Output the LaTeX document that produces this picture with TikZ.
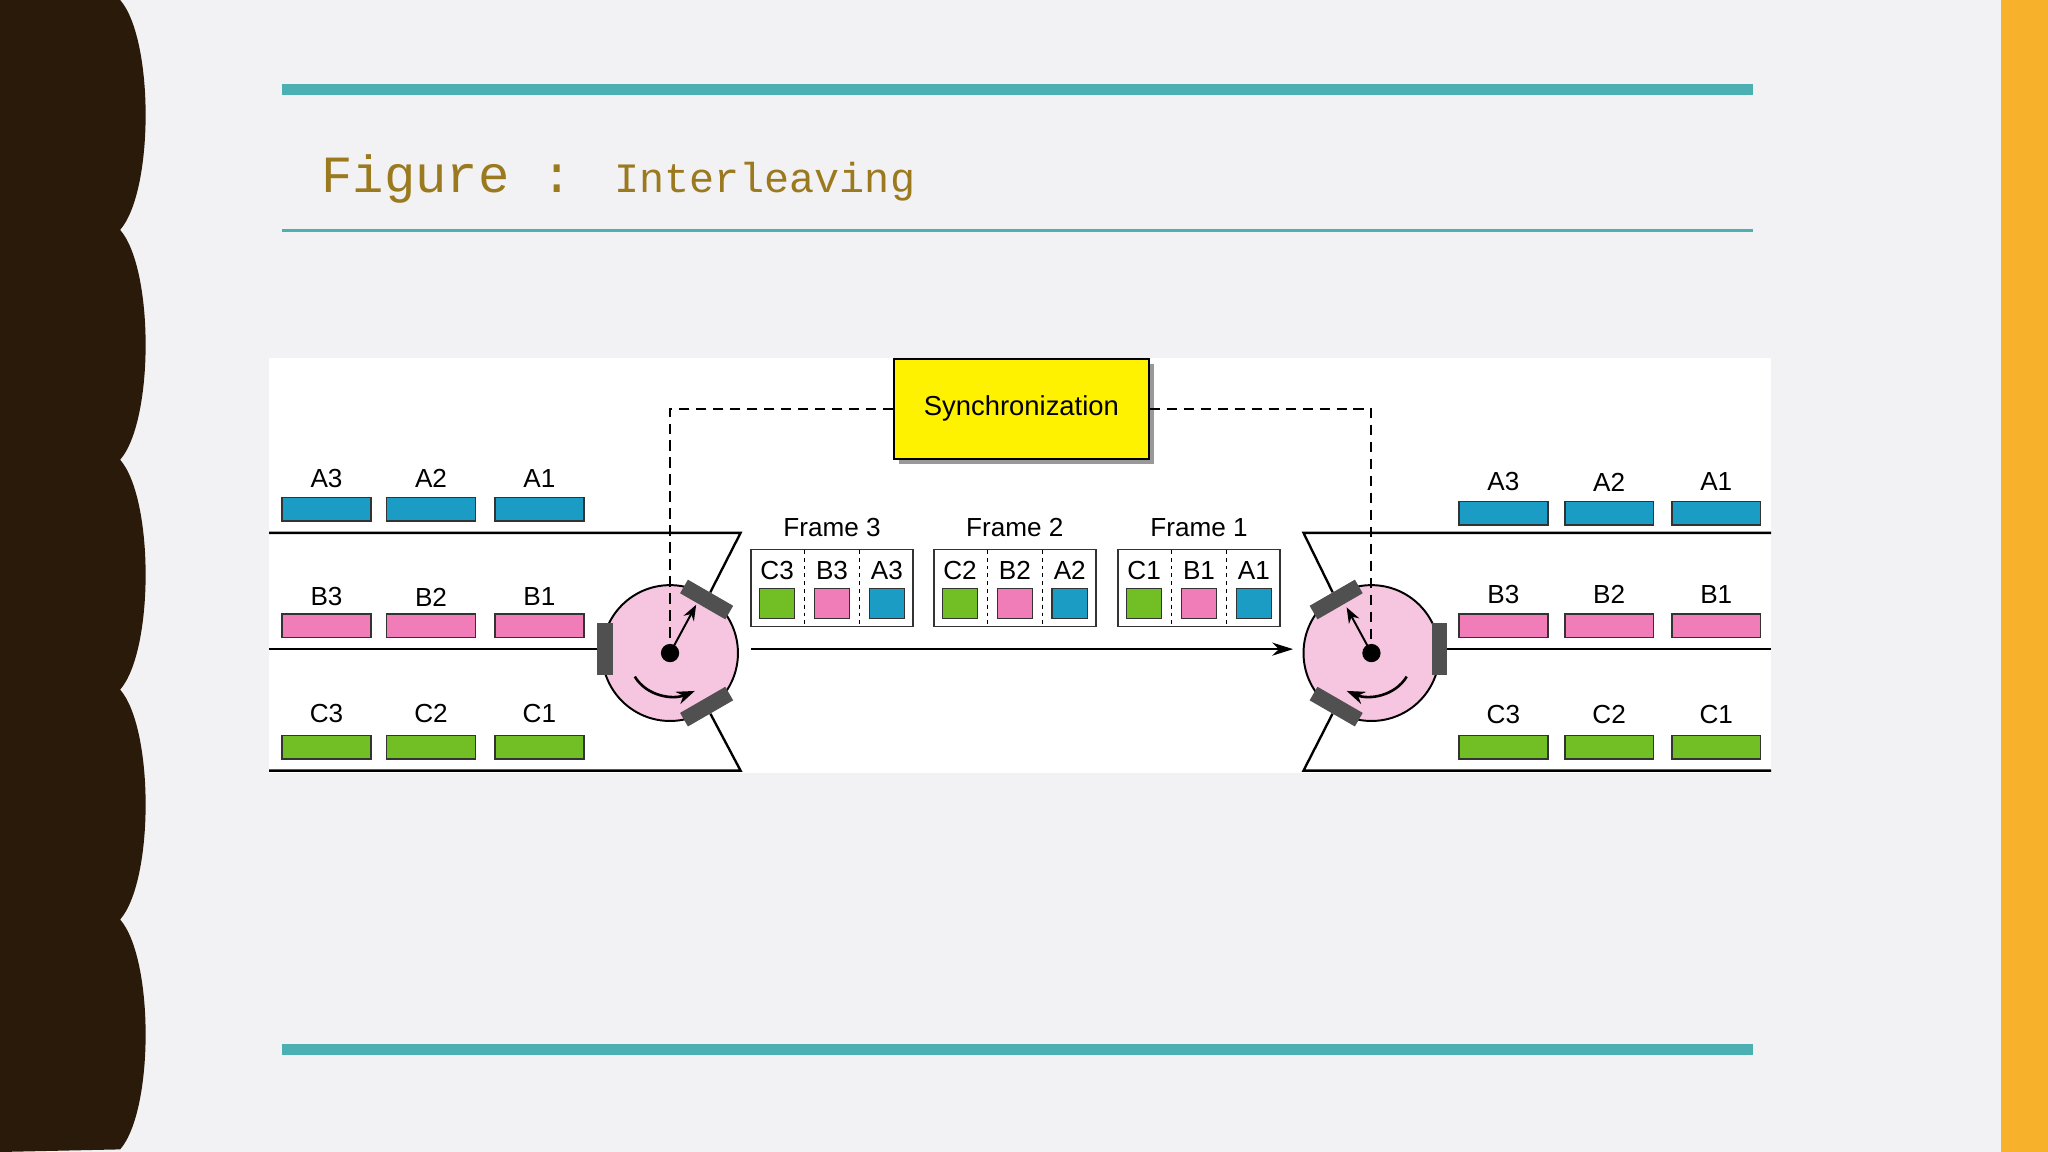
\documentclass[tikz,border=0pt]{standalone}
\usepackage{fontspec}
\setmainfont{Liberation Sans}
\newfontfamily\titlefont{Liberation Mono}
\usetikzlibrary{shadows, arrows.meta}
\definecolor{bg}{RGB}{242, 242, 244}
\definecolor{wave}{RGB}{42, 26, 10}
\definecolor{side}{RGB}{247, 177, 42}
\definecolor{teal}{RGB}{76, 176, 178}
\definecolor{olive}{RGB}{155, 122, 31}
\definecolor{cblue}{RGB}{26, 156, 196}
\definecolor{cpink}{RGB}{240, 125, 184}
\definecolor{cgreen}{RGB}{114, 191, 37}
\definecolor{disc}{RGB}{246, 198, 224}
\definecolor{block}{RGB}{80, 80, 80}

\tikzset{
  bar/.style={draw=black!80, line width=1.2pt, minimum width=68pt, minimum height=18pt, inner sep=0pt},
  cell/.style={draw=black!80, line width=1pt, minimum width=27pt, minimum height=23pt, inner sep=0pt},
  frame/.style={draw=black!80, line width=1pt, minimum width=124pt, minimum height=59pt, inner sep=0pt},
  lbl/.style={font=\fontsize{20}{20}\selectfont, inner sep=0pt},
  brush/.style={fill=block, minimum width=12pt, minimum height=40pt, inner sep=0pt},
  sync/.style={dashed, line width=1.6pt, dash pattern=on 8pt off 5pt},
  chan/.style={line width=1.8pt}
}

\begin{document}
\begin{tikzpicture}[x=1pt, y=-1pt]
  \useasboundingbox (0, 0) rectangle (1568, 882);
  \fill[bg] (0, 0) rectangle (1568, 882);
  \fill[side] (1532, 0) rectangle (1568, 882);

  % wavy left edge
  \fill[wave] (0, 0) -- (92, 0)
    \foreach \k in {0,...,4} {
      .. controls (118, {\k*176+30}) and (118, {\k*176+146}) .. (92, {\k*176+176})
    } -- (0, 882) -- cycle;

  % title and rules
  \fill[teal] (216, 64) rectangle (1342, 73);
  \fill[teal] (216, 175) rectangle (1342, 178);
  \fill[teal] (216, 799) rectangle (1342, 808);
  \node[anchor=west, text=olive, inner sep=0pt] (title) at (246, 137)
    {\titlefont\fontsize{40}{40}\selectfont Figure :
     \fontsize{32}{32}\selectfont Interleaving};

  \fill[white] (206, 274) rectangle (1356, 592);

  % synchronization
  \node[fill=yellow, draw=black, line width=1.5pt, drop shadow={opacity=0.8, shadow xshift=4pt, shadow yshift=-4pt},
        minimum width=195pt, minimum height=77pt, font=\fontsize{21}{21}\selectfont] (syn) at (782, 313) {Synchronization};

  % multiplexer and demultiplexer
  \node[circle, fill=disc, draw=black, line width=1.5pt, minimum size=104pt] (mux) at (513, 500) {};
  \node[circle, fill=disc, draw=black, line width=1.5pt, minimum size=104pt] (demux) at (1050, 500) {};
  \fill (mux) circle (7pt);
  \fill (demux) circle (7pt);

  \draw[sync] (syn.west) -| (mux.center);
  \draw[sync] (syn.east) -| (demux.center);

  \node[brush] (ml) at (463, 497) {};
  \node[brush, rotate=60] (mt) at (541, 459) {};
  \node[brush, rotate=-60] (mb) at (541, 541) {};
  \node[brush] (dr) at (1102, 497) {};
  \node[brush, rotate=-60] (dt) at (1023, 459) {};
  \node[brush, rotate=60] (db) at (1023, 541) {};

  \coordinate (lt) at (567, 408);
  \coordinate (lb) at (567, 590);
  \coordinate (rt) at (998, 408);
  \coordinate (rb) at (998, 590);
  \draw[chan] (206, 408) -- (lt) -- (mt);
  \draw[chan] (206, 590) -- (lb) -- (mb);
  \draw[chan] (206, 497) -- (ml);
  \draw[chan] (1356, 408) -- (rt) -- (dt);
  \draw[chan] (1356, 590) -- (rb) -- (db);
  \draw[chan] (1356, 497) -- (dr);

  \draw[-{Stealth[length=12pt, width=9pt]}, line width=1.5pt] (mux.center) -- (533, 463);
  \draw[-{Stealth[length=12pt, width=9pt]}, line width=1.5pt] (demux.center) -- (1031, 465);
  \draw[-{Stealth[length=14pt, width=10pt]}, line width=2pt] (486, 518) .. controls (495, 533) and (515, 536) .. (532, 529);
  \draw[-{Stealth[length=14pt, width=10pt]}, line width=2pt] (1077, 518) .. controls (1068, 533) and (1048, 536) .. (1031, 529);

  \draw[-{Stealth[length=16pt, width=10pt]}, line width=1.8pt] (575, 497) -- (990, 497);

  % input and output slots
  \foreach \i/\x in {3/250, 2/330, 1/413} {
    \node[bar, fill=cblue] (ina\i) at (\x, 390) {};
    \node[lbl] at (\x, 366) {A\i};
    \node[bar, fill=cpink] (inb\i) at (\x, 479) {};
    \node[lbl] at (\x, 457) {B\i};
    \node[bar, fill=cgreen] (inc\i) at (\x, 572) {};
    \node[lbl] at (\x, 546) {C\i};
  }
  \foreach \i/\x in {3/1151, 2/1232, 1/1314} {
    \node[bar, fill=cblue] (outa\i) at (\x, 393) {};
    \node[lbl] at (\x, 369) {A\i};
    \node[bar, fill=cpink] (outb\i) at (\x, 479) {};
    \node[lbl] at (\x, 455) {B\i};
    \node[bar, fill=cgreen] (outc\i) at (\x, 572) {};
    \node[lbl] at (\x, 547) {C\i};
  }

  % frames
  \foreach \f/\x in {3/637, 2/777, 1/918} {
    \node[frame, fill=white] (fr\f) at (\x, 450) {};
    \node[lbl] at (\x, 404) {Frame \f};
    \draw[dashed, line width=1pt] (\x-21, 421) -- (\x-21, 480);
    \draw[dashed, line width=1pt] (\x+21, 421) -- (\x+21, 480);
    \node[lbl] at (\x-42, 437) {C\f};
    \node[lbl] at (\x, 437) {B\f};
    \node[lbl] at (\x+42, 437) {A\f};
    \node[cell, fill=cgreen] at (\x-42, 462) {};
    \node[cell, fill=cpink] at (\x, 462) {};
    \node[cell, fill=cblue] at (\x+42, 462) {};
  }
\end{tikzpicture}
\end{document}
